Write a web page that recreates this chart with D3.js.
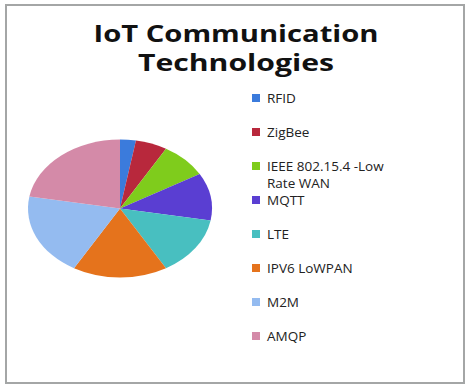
<!DOCTYPE html>
<html lang="en">
<head>
    <meta charset="UTF-8">
    <script src="https://cdnjs.cloudflare.com/ajax/libs/d3/7.8.5/d3.min.js"></script>
    <title>IoT Communication Technologies</title>
    <style>
        body { margin: 0; background: #fff; }
    </style>
</head>
<body>
    <script>
        // data
        var categories = ['RFID', 'ZigBee', 'IEEE 802.15.4 -Low Rate WAN', 'MQTT', 'LTE', 'IPV6 LoWPAN', 'M2M', 'AMQP'];
        var values = [1, 2, 3, 4, 5, 6, 7, 8];
        var colors = ['#3b7bdc', '#b8283c', '#7fcc1c', '#5a3ed2', '#48bfc0', '#e5731c', '#94bbf0', '#d48aa8'];
        var legendLines = [['RFID'], ['ZigBee'], ['IEEE 802.15.4 -Low', 'Rate WAN'], ['MQTT'], ['LTE'], ['IPV6 LoWPAN'], ['M2M'], ['AMQP']];

        var width = 474, height = 391;
        var svg = d3.select('body').append('svg')
            .attr('width', width)
            .attr('height', height);

        // chart frame
        svg.append('rect')
            .attr('x', 6).attr('y', 5)
            .attr('width', 458).attr('height', 378)
            .attr('fill', '#fff')
            .attr('stroke', '#a4a6a6')
            .attr('stroke-width', 2);

        // title
        var title = svg.append('text')
            .attr('text-anchor', 'middle')
            .attr('font-family', 'Open Sans, sans-serif')
            .attr('font-weight', 'bold')
            .attr('font-size', 24)
            .attr('fill', '#111');
        title.append('tspan').attr('x', 236).attr('y', 42).attr('textLength', 285).attr('lengthAdjust', 'spacingAndGlyphs').text('IoT Communication');
        title.append('tspan').attr('x', 236).attr('y', 71).attr('textLength', 196).attr('lengthAdjust', 'spacingAndGlyphs').text('Technologies');

        // pie, drawn as a flattened circle
        var rx = 92, ry = 69;
        var pie = d3.pie().sort(null).value(function (d) { return d; });
        var arc = d3.arc().innerRadius(0).outerRadius(rx);
        var color = d3.scaleOrdinal().domain(categories).range(colors);

        var g = svg.append('g')
            .attr('transform', 'translate(120,208.5) scale(1,' + (ry / rx) + ')');
        g.selectAll('path')
            .data(pie(values))
            .enter().append('path')
            .attr('d', arc)
            .attr('fill', function (d, i) { return color(categories[i]); });

        // legend
        var legendY = d3.scalePoint().domain(categories).range([98, 336]);
        var item = svg.selectAll('.legend')
            .data(categories)
            .enter().append('g')
            .attr('class', 'legend')
            .attr('transform', function (d) {
                var y = legendY(d);
                if (d === 'MQTT') y = 200;
                return 'translate(0,' + y + ')';
            });
        item.append('rect')
            .attr('x', 252).attr('y', -4)
            .attr('width', 8).attr('height', 8)
            .attr('fill', function (d) { return color(d); });
        item.append('text')
            .attr('x', 267)
            .attr('font-family', 'Open Sans, sans-serif')
            .attr('font-size', 13.5)
            .attr('fill', '#222')
            .selectAll('tspan')
            .data(function (d, i) { return legendLines[i]; })
            .enter().append('tspan')
            .attr('x', 267)
            .attr('dy', function (d, i) { return i === 0 ? '0.35em' : '17px'; })
            .text(function (d) { return d; });
    </script>
</body>
</html>
